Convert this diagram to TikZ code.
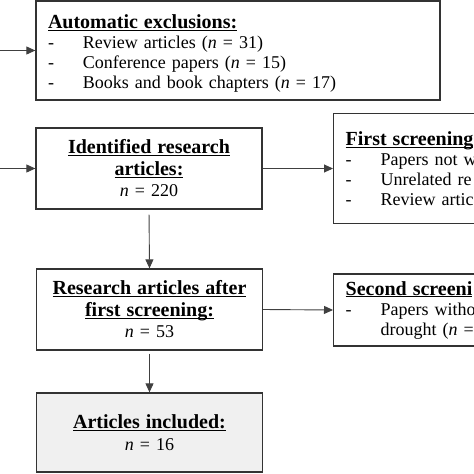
\documentclass[tikz,border=0pt]{standalone}
\usepackage{fontspec}
\setmainfont{Liberation Serif}
\usetikzlibrary{arrows.meta}

\newcommand{\boxhead}[1]{{\fontsize{20}{20}\selectfont\underline{\raisebox{0pt}[\height][0pt]{\textbf{#1}}}}}
\newcommand{\itemdash}{\makebox[35pt][l]{-}}

\begin{document}
\begin{tikzpicture}
[every node/.style={inner sep=0pt},
 stagebox/.style={rectangle, draw=black!80, line width=1.3pt, minimum height=81pt, text width=214pt, inner xsep=6pt, align=center, font=\fontsize{18}{21.5}\selectfont},
 exclbox/.style={rectangle, draw=black!80, line width=1.3pt, inner xsep=12pt, align=left, font=\fontsize{18}{20}\selectfont},
 flow/.style={line width=0.9pt, -{Triangle[length=9pt,width=8pt]}, color=black!75}]
\useasboundingbox (0pt,0pt) rectangle (474pt,-474pt);
\clip (0pt,0pt) rectangle (474pt,-474pt);
\node (auto) [exclbox, text width=380pt, minimum height=99pt] at (238pt, -50.5pt) {\rule{0pt}{20pt}\boxhead{Automatic exclusions:}\\\itemdash Review articles (\textit{n} = 31)\\\itemdash Conference papers (\textit{n} = 15)\\\itemdash Books and book chapters (\textit{n} = 17)};
\node (ident) [stagebox] at (149pt, -168.5pt) {\boxhead{Identified research}\\\boxhead{articles:}\\\textit{n} = 220};
\node (first) [exclbox, anchor=west, text width=176pt, minimum height=110pt] at (333pt, -168.5pt) {\boxhead{First screening}\\\itemdash Papers not w\\\itemdash Unrelated re\\\itemdash Review artic};
\node (research) [stagebox] at (149.5pt, -309.5pt) {\boxhead{Research articles after}\\\boxhead{first screening:}\\\textit{n} = 53};
\node (second) [exclbox, anchor=west, text width=176pt, minimum height=72pt] at (333pt, -310pt) {\boxhead{Second screeni}\\\itemdash Papers witho\\\makebox[35pt]{}drought (\textit{n} =};
\node (incl) [stagebox, fill=black!6, minimum height=79pt] at (149.5pt, -432.5pt) {\boxhead{Articles included:}\\\textit{n} = 16};
\coordinate (inauto) at (0pt, -50.5pt);
\coordinate (inident) at (0pt, -168.5pt);
\draw [flow] (inauto) to (auto.west);
\draw [flow] (inident) to (ident.west);
\draw [flow] (ident.east) to (first.west);
\draw [flow, shorten <=5pt] (ident.south) to (research.north);
\draw [flow] (research.east) to (second.west);
\draw [flow, shorten <=3pt] (research.south) to (incl.north);
\end{tikzpicture}
\end{document}
